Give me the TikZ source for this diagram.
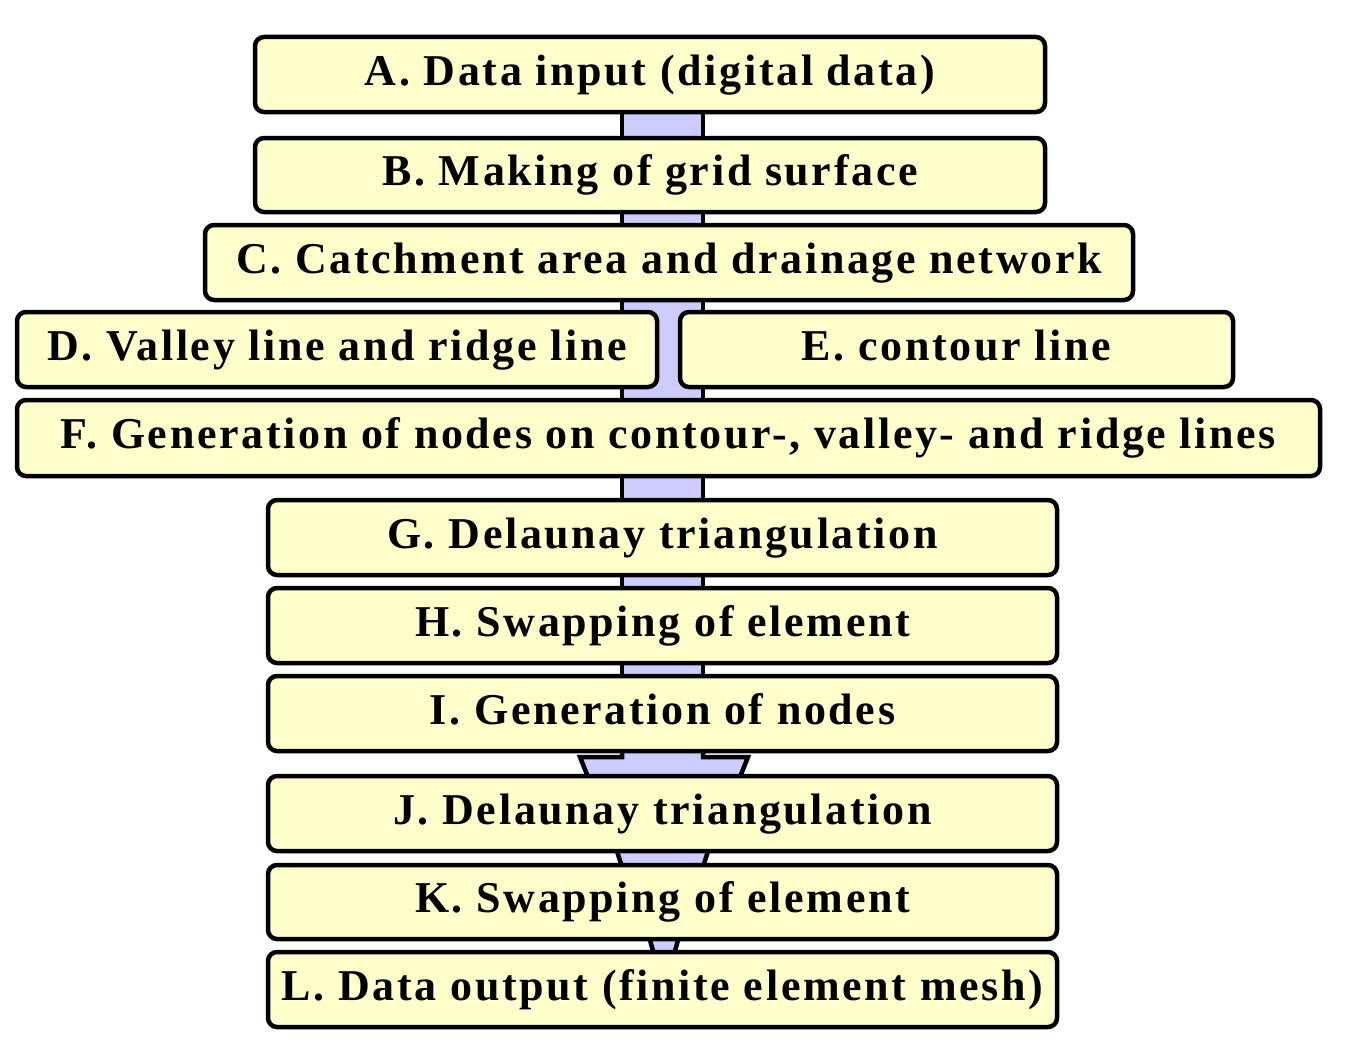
\documentclass[tikz,border=0pt]{standalone}
\usepackage{fontspec}
\setmainfont{Liberation Serif}[LetterSpace=6]
\begin{document}
\begin{tikzpicture}[x=1pt,y=-1pt,
  stepbox/.style={draw=black,line width=4.5pt,fill=boxfill,rounded corners=9pt,inner sep=0pt,text height=30pt,text depth=9pt,font=\fontsize{44}{44}\selectfont\bfseries},
  barfill/.style={draw=black,line width=4.5pt,fill=barcol}]
\definecolor{boxfill}{HTML}{FFFFCC}
\definecolor{barcol}{HTML}{CCCCFF}
\useasboundingbox (0,0) rectangle (1346,1049);
\newcommand\bx[6]{\node[stepbox,minimum width={#4-#3},minimum height={#6-#5}] (#1) at ({(#3+#4)/2},{(#5+#6)/2}) {#2};}
% connectors
\draw[barfill] (622,100) rectangle (703,690);
\draw[barfill] (622,740) -- (622,757) -- (580,757) -- (590,782) -- (738,782) -- (748,757) -- (703,757) -- (703,740) -- cycle;
\draw[barfill] (615,845) -- (623,870) -- (702,870) -- (710,845) -- cycle;
\draw[barfill] (648,933) -- (655,958) -- (673,958) -- (680,933) -- cycle;
% boxes
\bx{A}{A. Data input (digital data)}{255}{1045}{37}{112}
\bx{B}{B. Making of grid surface}{255}{1045}{138}{212}
\bx{C}{C. Catchment area and drainage network}{205}{1133}{225}{300}
\bx{D}{D. Valley line and ridge line}{17}{657}{312}{387}
\bx{E}{E. contour line}{680}{1233}{312}{387}
\bx{F}{F. Generation of nodes on contour-, valley- and ridge lines}{17}{1320}{400}{476}
\bx{G}{G. Delaunay triangulation}{268}{1057}{500}{575}
\bx{H}{H. Swapping of element}{268}{1057}{588}{663}
\bx{I}{I. Generation of nodes}{268}{1057}{676}{751}
\bx{J}{J. Delaunay triangulation}{268}{1057}{776}{851}
\bx{K}{K. Swapping of element}{268}{1057}{865}{939}
\bx{L}{L. Data output (finite element mesh)}{268}{1057}{952}{1027}
\end{tikzpicture}
\end{document}
